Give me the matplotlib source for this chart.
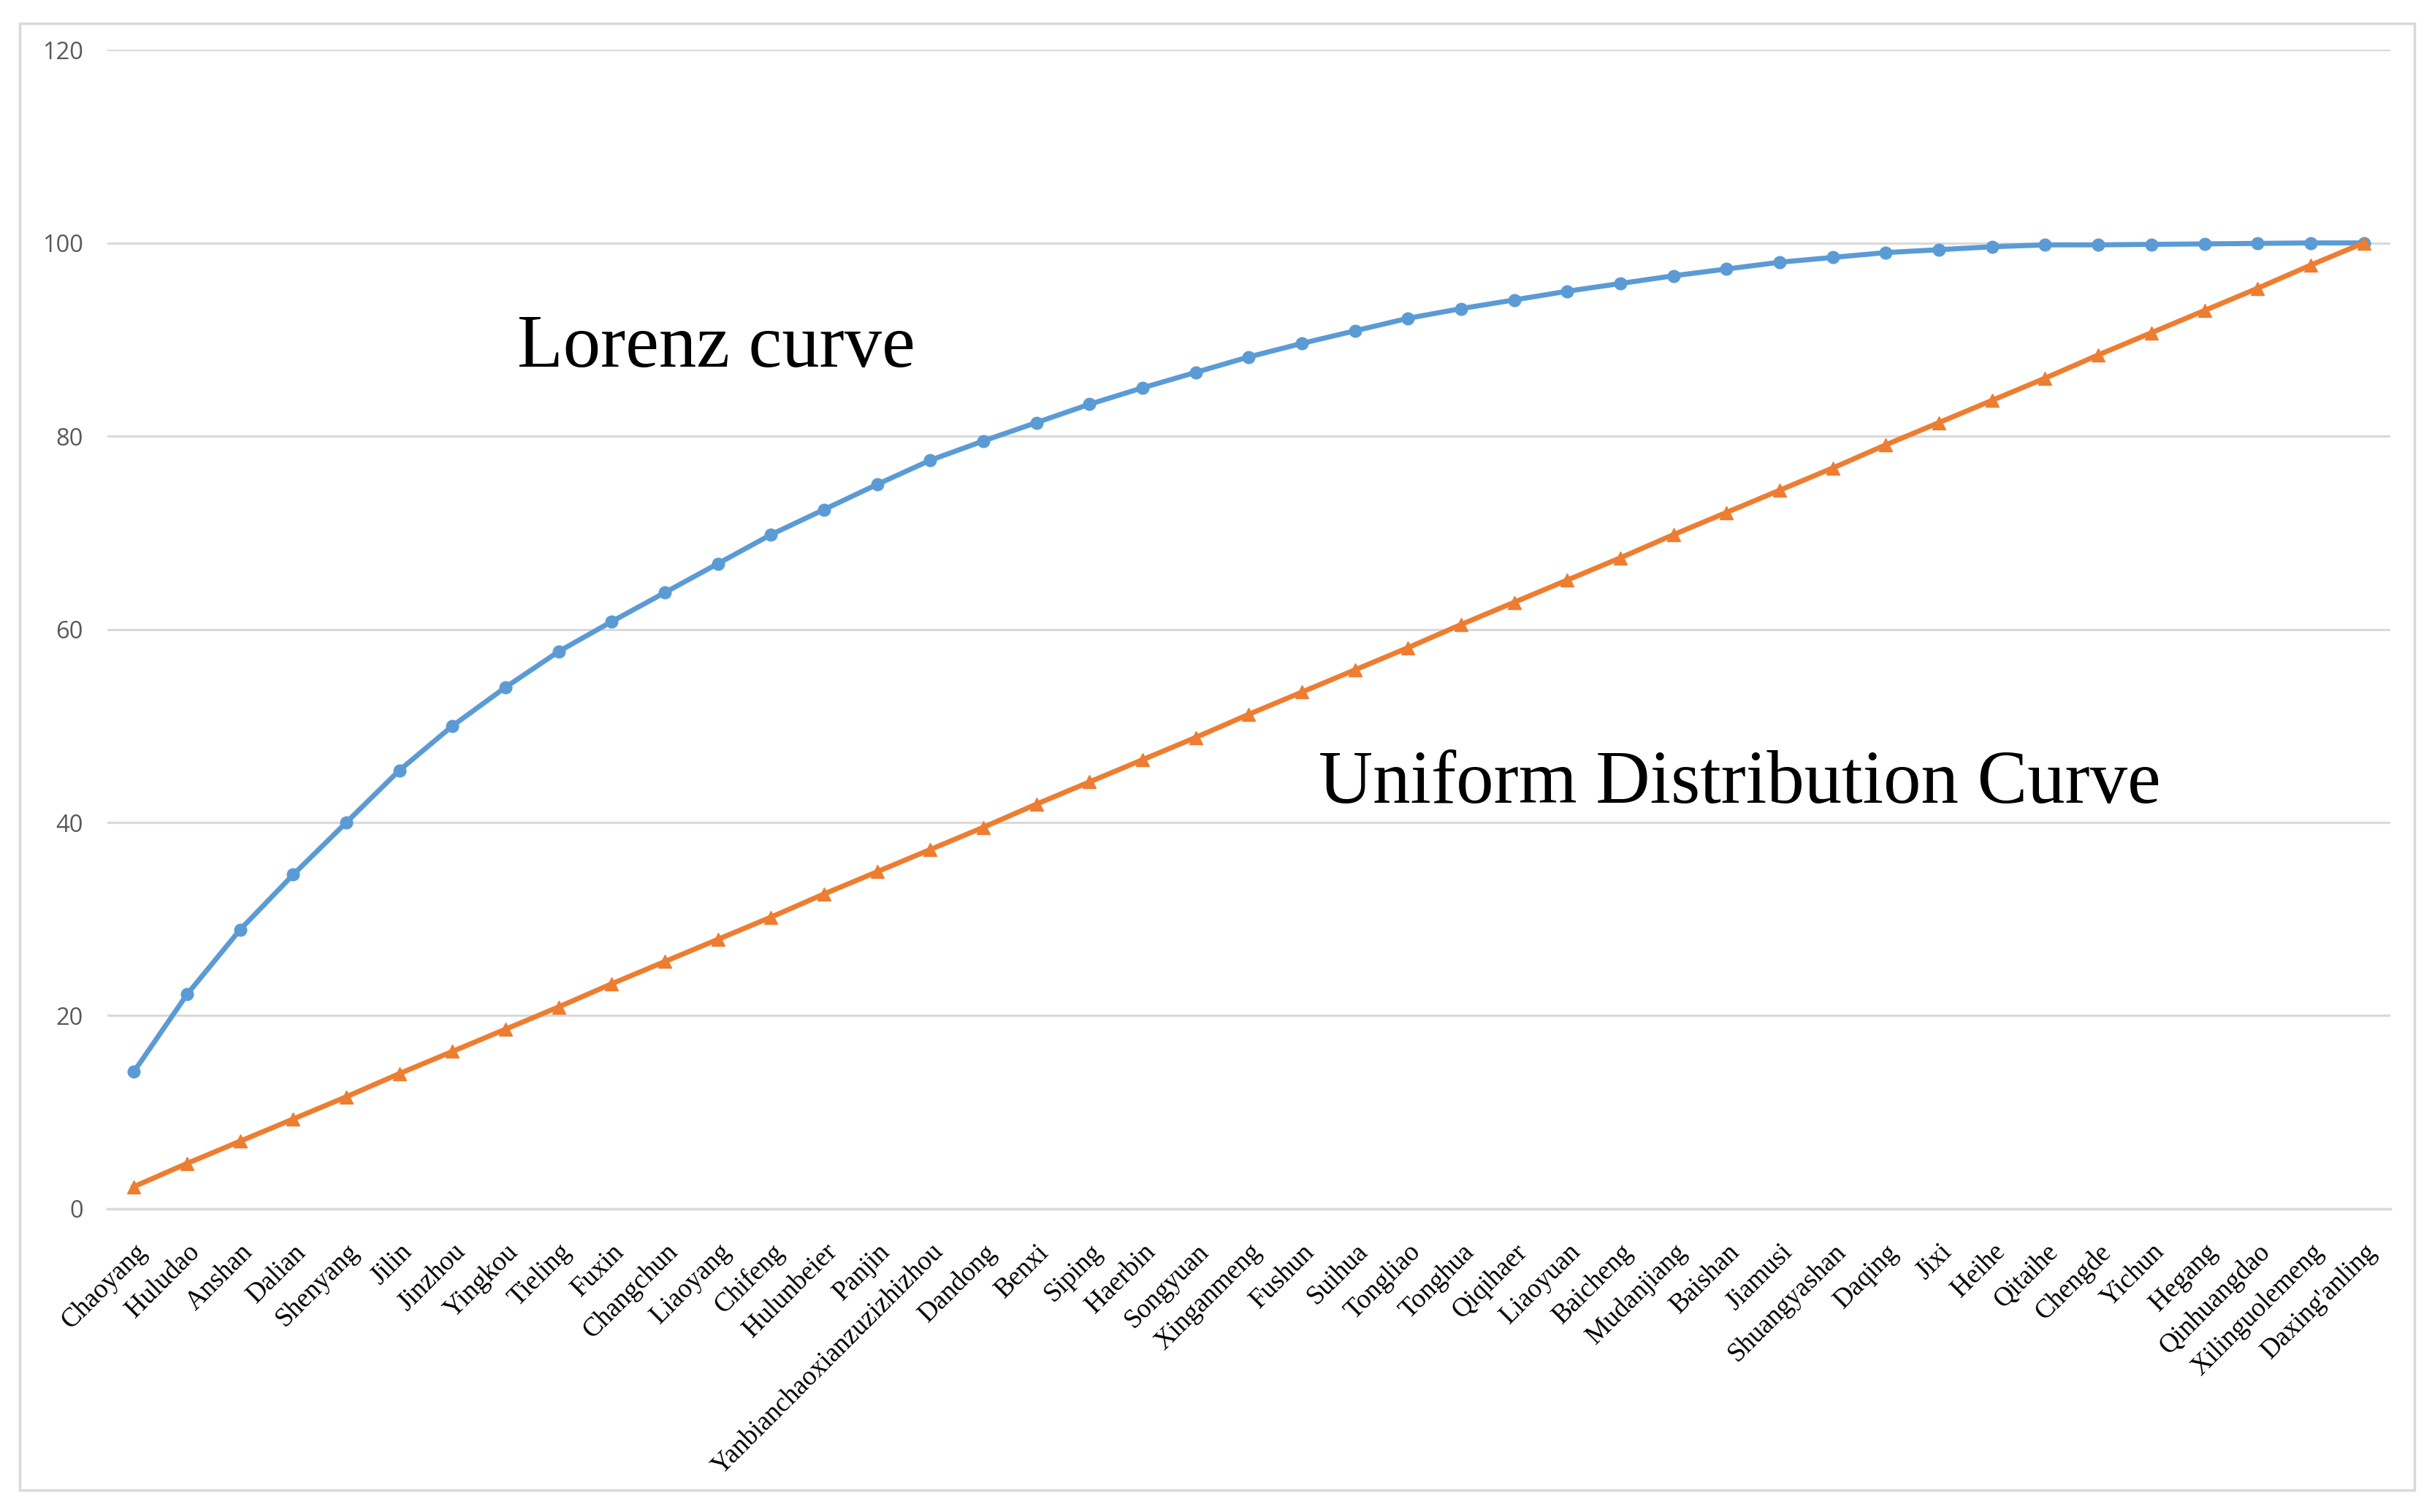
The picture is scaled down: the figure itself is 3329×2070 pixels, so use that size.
import numpy as np
import matplotlib.pyplot as plt
from matplotlib.patches import Rectangle

cities = ['Chaoyang', 'Huludao', 'Anshan', 'Dalian', 'Shenyang', 'Jilin', 'Jinzhou',
          'Yingkou', 'Tieling', 'Fuxin', 'Changchun', 'Liaoyang', 'Chifeng', 'Hulunbeier',
          'Panjin', 'Yanbianchaoxianzuzizhizhou', 'Dandong', 'Benxi', 'Siping', 'Haerbin',
          'Songyuan', 'Xinganmeng', 'Fushun', 'Suihua', 'Tongliao', 'Tonghua', 'Qiqihaer',
          'Liaoyuan', 'Baicheng', 'Mudanjiang', 'Baishan', 'Jiamusi', 'Shuangyashan',
          'Daqing', 'Jixi', 'Heihe', 'Qitaihe', 'Chengde', 'Yichun', 'Hegang',
          'Qinhuangdao', 'Xilinguolemeng', "Daxing'anling"]

lorenz = [14.2, 22.2, 28.9, 34.6, 40.0, 45.4, 50.0, 54.0, 57.7, 60.8,
          63.8, 66.8, 69.8, 72.4, 75.0, 77.5, 79.5, 81.4, 83.3, 85.0,
          86.6, 88.2, 89.6, 90.9, 92.2, 93.2, 94.1, 95.0, 95.8, 96.6,
          97.3, 98.0, 98.5, 99.0, 99.3, 99.6, 99.8, 99.8, 99.85, 99.9,
          99.95, 100.0, 100.0]

uniform = [2.3, 4.7, 7.0, 9.3, 11.6, 14.0, 16.3, 18.6, 20.9, 23.3,
           25.6, 27.9, 30.2, 32.6, 34.9, 37.2, 39.5, 41.9, 44.2, 46.5,
           48.8, 51.2, 53.5, 55.8, 58.1, 60.5, 62.8, 65.1, 67.4, 69.8,
           72.1, 74.4, 76.7, 79.1, 81.4, 83.7, 86.0, 88.4, 90.7, 93.0,
           95.3, 97.7, 100.0]

yticks = [0, 20, 40, 60, 80, 100, 120]

serif = ['Liberation Serif', 'DejaVu Serif']

fig = plt.figure(figsize=(33.3, 20.7), dpi=100)
ax = fig.add_axes([0.04414, 0.2005, 0.9384, 0.7666])

x = np.arange(len(cities))
ax.plot(x, lorenz, color='#5B9BD5', lw=5, marker='o', ms=12, zorder=3)
ax.plot(x, uniform, color='#ED7D31', lw=5, marker='^', ms=13, zorder=3)

ax.set_xlim(-0.5, len(cities) - 0.5)
ax.set_ylim(0, 120)
ax.set_yticks(yticks)
ax.grid(axis='y', color='#D9D9D9', lw=2.2)
ax.set_axisbelow(True)
for s in ['top', 'right', 'left']:
    ax.spines[s].set_visible(False)
ax.spines['bottom'].set_color('#D9D9D9')
ax.spines['bottom'].set_linewidth(2.5)

ax.tick_params(axis='y', length=0, pad=24, labelsize=23.5, labelcolor='#595959')
for t in ax.get_yticklabels():
    t.set_family(['Open Sans', 'DejaVu Sans'])
ax.set_xticks(x)
ax.set_xticklabels(cities, rotation=45, ha='right', va='top', rotation_mode='anchor',
                   family=serif, fontsize=26.5)
ax.tick_params(axis='x', length=0, pad=30)

ax.text(7.22, 87.2, 'Lorenz curve', family=serif, fontsize=74, ha='left', va='baseline')
ax.text(22.31, 42.06, 'Uniform Distribution Curve', family=serif, fontsize=74,
        ha='left', va='baseline')

# outer chart border
fig.patches.append(Rectangle((0.0081, 0.0145), 0.9844, 0.970, transform=fig.transFigure,
                             fill=False, edgecolor='#D9D9D9', lw=2.5))

fig.savefig('out.png', dpi=100)
